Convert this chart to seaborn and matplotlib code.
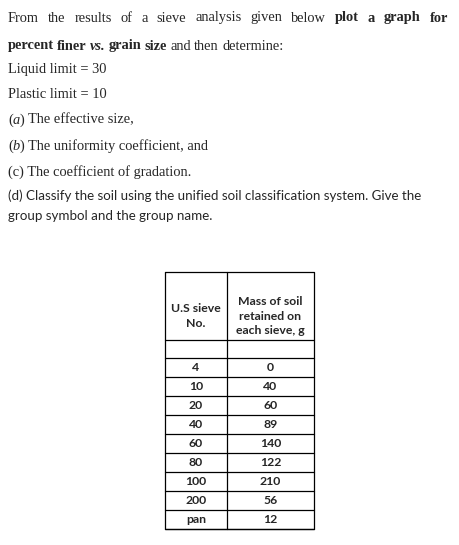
import matplotlib
matplotlib.use("Agg")
import matplotlib.pyplot as plt
import seaborn as sns

sns.set_style("white")
plt.rcParams['font.family'] = ['Liberation Serif', 'DejaVu Serif']

# text lines: (y, list of (word, style), justified, family)
serif = 'Liberation Serif'
sans = 'Lato'
lines = [
    (18, [("From", ""), ("the", ""), ("results", ""), ("of", ""), ("a", ""), ("sieve", ""), ("analysis", ""),
          ("given", ""), ("below", ""), ("plot", "b"), ("a", "b"), ("graph", "b"), ("for", "b")], True, serif),
    (46, [("percent", "b"), ("finer", "b"), ("vs.", "bi"), ("grain", "b"), ("size", "b"), ("and", ""),
          ("then", ""), ("determine:", "")], False, serif),
    (70, [("Liquid limit = 30", "")], False, serif),
    (95, [("Plastic limit = 10", "")], False, serif),
    (120, [("(", ""), ("a", "i"), (")", ""), ("The effective size,", "")], False, serif),
    (146, [("(", ""), ("b", "i"), (")", ""), ("The uniformity coefficient, and", "")], False, serif),
    (172, [("(c) The coefficient of gradation.", "")], False, serif),
    (196, [("(d) Classify the soil using the unified soil classification system. Give the", "")], False, sans),
    (216, [("group symbol and the group name.", "")], False, sans),
]

sieve_no = ["4", "10", "20", "40", "60", "80", "100", "200", "pan"]
mass_retained = [0, 40, 60, 89, 140, 122, 210, 56, 12]

fig = plt.figure(figsize=(4.6, 5.45), dpi=100)
ax = fig.add_axes([0, 0, 1, 1])
ax.set_xlim(0, 460)
ax.set_ylim(545, 0)
ax.axis("off")
fig.canvas.draw()
r = fig.canvas.get_renderer()

for y, words, just, fam in lines:
    texts = []
    for w, st in words:
        t = ax.text(0, y, w, fontsize=10.4 if fam == serif else 9.6, family=[fam, 'DejaVu Sans'],
                    fontweight="bold" if "b" in st else "normal",
                    fontstyle="italic" if "i" in st else "normal", va="center", ha="left")
        texts.append(t)
    fig.canvas.draw()
    ws = [t.get_window_extent(r).width for t in texts]
    space = 3.2
    if just:
        space = (448 - 8 - sum(ws)) / (len(ws) - 1)
    x = 8
    for i, (t, w) in enumerate(zip(texts, ws)):
        t.set_x(x)
        nxt = words[i + 1][0] if i + 1 < len(words) else ""
        tight = words[i][0] == "(" or nxt == ")"
        x += w + (0 if tight else space)

# table
x0, xm, x1 = 165, 227, 314
top, head_bot, blank_bot, bottom = 272, 340, 358, 529
rh = (bottom - blank_bot) / len(sieve_no)
tfont = dict(family=[sans, 'DejaVu Sans'], fontsize=8.8, fontweight="bold", ha="center", va="center")
ax.plot([x0, x1, x1, x0, x0], [top, top, bottom, bottom, top], color="black", lw=0.9)
ax.plot([xm, xm], [top, bottom], color="black", lw=0.9)
ax.plot([x0, x1], [head_bot, head_bot], color="black", lw=0.9)
ax.plot([x0, x1], [blank_bot, blank_bot], color="black", lw=0.9)
ax.text((x0 + xm) / 2, 316, "U.S sieve\nNo.", linespacing=1.5, **tfont)
ax.text((xm + x1) / 2, 316, "Mass of soil\nretained on\neach sieve, g", linespacing=1.4, **tfont)
for i, (s, m) in enumerate(zip(sieve_no, mass_retained)):
    yc = blank_bot + (i + 0.5) * rh
    ax.plot([x0, x1], [blank_bot + (i + 1) * rh] * 2, color="black", lw=0.9)
    ax.text((x0 + xm) / 2, yc, s, **tfont)
    ax.text((xm + x1) / 2, yc, str(m), **tfont)

fig.savefig("out.png", dpi=100)
